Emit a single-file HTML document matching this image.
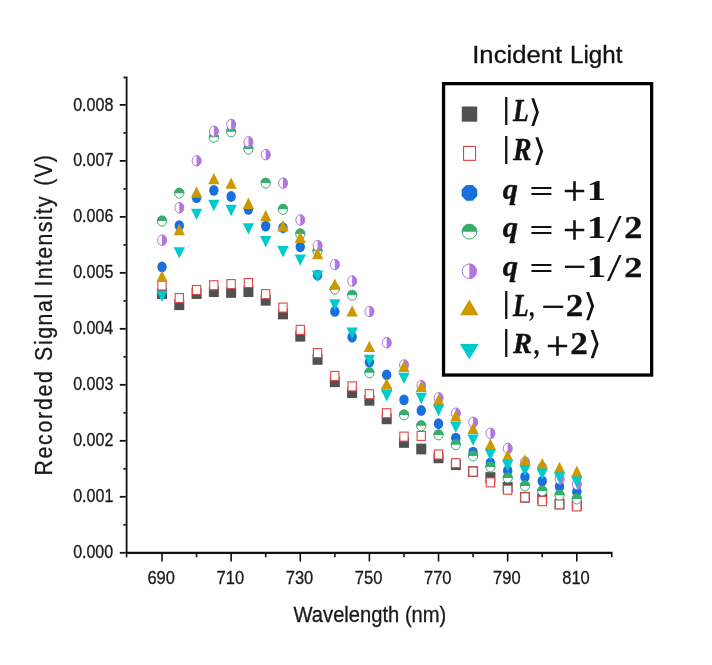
<!DOCTYPE html>
<html lang="en">
<head>
<meta charset="utf-8">
<title>Recorded Signal Intensity vs Wavelength</title>
<style>
html,body{margin:0;padding:0;background:#fff;}
body{width:712px;height:665px;overflow:hidden;}
svg{display:block;}
text{white-space:pre;}
.ax{font-family:"Liberation Sans",Arial,sans-serif;fill:#1a1a1a;}
.ti{font-family:"Liberation Sans",Arial,sans-serif;fill:#111;}
.bi{font-family:"Liberation Serif","DejaVu Serif",serif;font-weight:bold;font-style:italic;fill:#111;}
.b{font-family:"Liberation Serif","DejaVu Serif",serif;font-weight:bold;fill:#111;}
.r{font-family:"Liberation Serif","DejaVu Serif",serif;fill:#111;}
.sb{font-family:"Liberation Sans",Arial,sans-serif;fill:#111;}
.dj{font-family:"DejaVu Sans","Liberation Sans",sans-serif;fill:#111;}
</style>
</head>
<body>
<svg width="712" height="665" viewBox="0 0 712 665">
<rect width="712" height="665" fill="#fff"/>

<g stroke="#111" stroke-width="1.8" fill="none">
<path d="M126.6 76.6V553.8"/>
<path stroke-width="2.2" d="M125.7 552.8H612.6"/>
<path d="M125.7 552.8H119.8"/>
<path d="M125.7 524.81H123.4"/>
<path d="M125.7 496.81H119.8"/>
<path d="M125.7 468.82H123.4"/>
<path d="M125.7 440.82H119.8"/>
<path d="M125.7 412.83H123.4"/>
<path d="M125.7 384.84H119.8"/>
<path d="M125.7 356.84H123.4"/>
<path d="M125.7 328.85H119.8"/>
<path d="M125.7 300.86H123.4"/>
<path d="M125.7 272.86H119.8"/>
<path d="M125.7 244.87H123.4"/>
<path d="M125.7 216.88H119.8"/>
<path d="M125.7 188.88H123.4"/>
<path d="M125.7 160.89H119.8"/>
<path d="M125.7 132.89H123.4"/>
<path d="M125.7 104.9H119.8"/>
<path d="M125.7 77.5H123.4"/>
<path stroke-width="1.6" d="M126.6 553.9V557.3"/>
<path stroke-width="1.6" d="M162 553.9V561.5"/>
<path stroke-width="1.6" d="M196.57 553.9V557.3"/>
<path stroke-width="1.6" d="M231.13 553.9V561.5"/>
<path stroke-width="1.6" d="M265.7 553.9V557.3"/>
<path stroke-width="1.6" d="M300.27 553.9V561.5"/>
<path stroke-width="1.6" d="M334.83 553.9V557.3"/>
<path stroke-width="1.6" d="M369.4 553.9V561.5"/>
<path stroke-width="1.6" d="M403.97 553.9V557.3"/>
<path stroke-width="1.6" d="M438.53 553.9V561.5"/>
<path stroke-width="1.6" d="M473.1 553.9V557.3"/>
<path stroke-width="1.6" d="M507.67 553.9V561.5"/>
<path stroke-width="1.6" d="M542.23 553.9V557.3"/>
<path stroke-width="1.6" d="M576.8 553.9V561.5"/>
<path stroke-width="1.6" d="M611.7 553.9V557.3"/>
</g>
<g>
<text class="ax" font-size="19.2" stroke="#111" stroke-width="0.3" stroke-linejoin="round" transform="translate(73.15 558.1) scale(0.832 1)">0.000</text>
<text class="ax" font-size="19.2" stroke="#111" stroke-width="0.3" stroke-linejoin="round" transform="translate(73.15 502.15) scale(0.838 1)">0.001</text>
<text class="ax" font-size="19.2" stroke="#111" stroke-width="0.3" stroke-linejoin="round" transform="translate(73.15 446.2) scale(0.838 1)">0.002</text>
<text class="ax" font-size="19.2" stroke="#111" stroke-width="0.3" stroke-linejoin="round" transform="translate(73.15 390.25) scale(0.838 1)">0.003</text>
<text class="ax" font-size="19.2" stroke="#111" stroke-width="0.3" stroke-linejoin="round" transform="translate(73.15 334.3) scale(0.832 1)">0.004</text>
<text class="ax" font-size="19.2" stroke="#111" stroke-width="0.3" stroke-linejoin="round" transform="translate(73.15 278.35) scale(0.838 1)">0.005</text>
<text class="ax" font-size="19.2" stroke="#111" stroke-width="0.3" stroke-linejoin="round" transform="translate(73.15 222.4) scale(0.838 1)">0.006</text>
<text class="ax" font-size="19.2" stroke="#111" stroke-width="0.3" stroke-linejoin="round" transform="translate(73.15 166.45) scale(0.838 1)">0.007</text>
<text class="ax" font-size="19.2" stroke="#111" stroke-width="0.3" stroke-linejoin="round" transform="translate(73.15 110.5) scale(0.838 1)">0.008</text>
<text class="ax" font-size="19.2" stroke="#111" stroke-width="0.3" text-anchor="middle" transform="translate(161.2 583.8) scale(0.861 1)">690</text>
<text class="ax" font-size="19.2" stroke="#111" stroke-width="0.3" text-anchor="middle" transform="translate(230.33 583.8) scale(0.861 1)">710</text>
<text class="ax" font-size="19.2" stroke="#111" stroke-width="0.3" text-anchor="middle" transform="translate(299.47 583.8) scale(0.861 1)">730</text>
<text class="ax" font-size="19.2" stroke="#111" stroke-width="0.3" text-anchor="middle" transform="translate(368.6 583.8) scale(0.861 1)">750</text>
<text class="ax" font-size="19.2" stroke="#111" stroke-width="0.3" text-anchor="middle" transform="translate(437.73 583.8) scale(0.861 1)">770</text>
<text class="ax" font-size="19.2" stroke="#111" stroke-width="0.3" text-anchor="middle" transform="translate(506.87 583.8) scale(0.861 1)">790</text>
<text class="ax" font-size="19.2" stroke="#111" stroke-width="0.3" text-anchor="middle" transform="translate(576 583.8) scale(0.861 1)">810</text>
</g>
<text class="ax" font-size="22.98" stroke="#111" stroke-width="0.3" stroke-linejoin="round" transform="translate(293.55 621.82) scale(0.878 1)">Wavelength (nm)</text>
<text class="ax" font-size="24.8" stroke="#111" stroke-width="0.3" transform="translate(52.2 0) rotate(-90) scale(0.86 1)"><tspan x="-553.02" y="0" textLength="121.51" lengthAdjust="spacing">Recorded</tspan> <tspan x="-419.65" y="0" textLength="78.02" lengthAdjust="spacing">Signal</tspan> <tspan x="-333.02" y="0" textLength="104.65" lengthAdjust="spacing">Intensity</tspan> <tspan x="-216.05" y="0" textLength="35.58" lengthAdjust="spacing">(V)</tspan></text>
<g>
<rect x="157" y="288.25" width="10" height="10.7" fill="#515151"/>
<rect x="174.28" y="299.41" width="10" height="10.7" fill="#515151"/>
<rect x="191.57" y="288.25" width="10" height="10.7" fill="#515151"/>
<rect x="208.85" y="286.3" width="10" height="10.7" fill="#515151"/>
<rect x="226.13" y="287.14" width="10" height="10.7" fill="#515151"/>
<rect x="243.42" y="286.3" width="10" height="10.7" fill="#515151"/>
<rect x="260.7" y="294.95" width="10" height="10.7" fill="#515151"/>
<rect x="277.98" y="308.62" width="10" height="10.7" fill="#515151"/>
<rect x="295.27" y="330.94" width="10" height="10.7" fill="#515151"/>
<rect x="312.55" y="354.1" width="10" height="10.7" fill="#515151"/>
<rect x="329.83" y="376.42" width="10" height="10.7" fill="#515151"/>
<rect x="347.12" y="387.3" width="10" height="10.7" fill="#515151"/>
<rect x="364.4" y="395" width="10" height="10.7" fill="#515151"/>
<rect x="381.68" y="413.52" width="10" height="10.7" fill="#515151"/>
<rect x="398.97" y="437.13" width="10" height="10.7" fill="#515151"/>
<rect x="416.25" y="443.66" width="10" height="10.7" fill="#515151"/>
<rect x="433.53" y="452.53" width="10" height="10.7" fill="#515151"/>
<rect x="450.82" y="459.39" width="10" height="10.7" fill="#515151"/>
<rect x="468.1" y="466.26" width="10" height="10.7" fill="#515151"/>
<rect x="485.38" y="472.17" width="10" height="10.7" fill="#515151"/>
<rect x="502.67" y="482.05" width="10" height="10.7" fill="#515151"/>
<rect x="519.95" y="491.92" width="10" height="10.7" fill="#515151"/>
<rect x="537.23" y="493.65" width="10" height="10.7" fill="#515151"/>
<rect x="554.52" y="498.62" width="10" height="10.7" fill="#515151"/>
<rect x="571.8" y="499.96" width="10" height="10.7" fill="#515151"/>
</g>
<g>
<rect x="157.85" y="281.01" width="8.3" height="9" fill="#fff" stroke="#DC4646" stroke-width="1.1"/>
<rect x="175.13" y="293.57" width="8.3" height="9" fill="#fff" stroke="#DC4646" stroke-width="1.1"/>
<rect x="192.42" y="285.48" width="8.3" height="9" fill="#fff" stroke="#DC4646" stroke-width="1.1"/>
<rect x="209.7" y="280.73" width="8.3" height="9" fill="#fff" stroke="#DC4646" stroke-width="1.1"/>
<rect x="226.98" y="279.62" width="8.3" height="9" fill="#fff" stroke="#DC4646" stroke-width="1.1"/>
<rect x="244.27" y="278.5" width="8.3" height="9" fill="#fff" stroke="#DC4646" stroke-width="1.1"/>
<rect x="261.55" y="289.66" width="8.3" height="9" fill="#fff" stroke="#DC4646" stroke-width="1.1"/>
<rect x="278.83" y="303.05" width="8.3" height="9" fill="#fff" stroke="#DC4646" stroke-width="1.1"/>
<rect x="296.12" y="325.37" width="8.3" height="9" fill="#fff" stroke="#DC4646" stroke-width="1.1"/>
<rect x="313.4" y="348.59" width="8.3" height="9" fill="#fff" stroke="#DC4646" stroke-width="1.1"/>
<rect x="330.68" y="371.41" width="8.3" height="9" fill="#fff" stroke="#DC4646" stroke-width="1.1"/>
<rect x="347.97" y="381.9" width="8.3" height="9" fill="#fff" stroke="#DC4646" stroke-width="1.1"/>
<rect x="365.25" y="389.71" width="8.3" height="9" fill="#fff" stroke="#DC4646" stroke-width="1.1"/>
<rect x="382.53" y="408.68" width="8.3" height="9" fill="#fff" stroke="#DC4646" stroke-width="1.1"/>
<rect x="399.82" y="432.12" width="8.3" height="9" fill="#fff" stroke="#DC4646" stroke-width="1.1"/>
<rect x="417.1" y="431.39" width="8.3" height="9" fill="#fff" stroke="#DC4646" stroke-width="1.1"/>
<rect x="434.38" y="449.98" width="8.3" height="9" fill="#fff" stroke="#DC4646" stroke-width="1.1"/>
<rect x="451.67" y="458.62" width="8.3" height="9" fill="#fff" stroke="#DC4646" stroke-width="1.1"/>
<rect x="468.95" y="467.11" width="8.3" height="9" fill="#fff" stroke="#DC4646" stroke-width="1.1"/>
<rect x="486.23" y="477.88" width="8.3" height="9" fill="#fff" stroke="#DC4646" stroke-width="1.1"/>
<rect x="503.52" y="485.24" width="8.3" height="9" fill="#fff" stroke="#DC4646" stroke-width="1.1"/>
<rect x="520.8" y="492.83" width="8.3" height="9" fill="#fff" stroke="#DC4646" stroke-width="1.1"/>
<rect x="538.08" y="496.62" width="8.3" height="9" fill="#fff" stroke="#DC4646" stroke-width="1.1"/>
<rect x="555.37" y="499.8" width="8.3" height="9" fill="#fff" stroke="#DC4646" stroke-width="1.1"/>
<rect x="572.65" y="501.93" width="8.3" height="9" fill="#fff" stroke="#DC4646" stroke-width="1.1"/>
</g>
<g>
<ellipse cx="162" cy="266.99" rx="4.7" ry="5.4" fill="#1A6FDF"/>
<ellipse cx="179.28" cy="225.53" rx="4.7" ry="5.4" fill="#1A6FDF"/>
<ellipse cx="196.57" cy="197.63" rx="4.7" ry="5.4" fill="#1A6FDF"/>
<ellipse cx="213.85" cy="190.37" rx="4.7" ry="5.4" fill="#1A6FDF"/>
<ellipse cx="231.13" cy="196.51" rx="4.7" ry="5.4" fill="#1A6FDF"/>
<ellipse cx="248.42" cy="209.35" rx="4.7" ry="5.4" fill="#1A6FDF"/>
<ellipse cx="265.7" cy="226.09" rx="4.7" ry="5.4" fill="#1A6FDF"/>
<ellipse cx="282.98" cy="227.76" rx="4.7" ry="5.4" fill="#1A6FDF"/>
<ellipse cx="300.27" cy="246.73" rx="4.7" ry="5.4" fill="#1A6FDF"/>
<ellipse cx="317.55" cy="275.19" rx="4.7" ry="5.4" fill="#1A6FDF"/>
<ellipse cx="334.83" cy="311.46" rx="4.7" ry="5.4" fill="#1A6FDF"/>
<ellipse cx="352.12" cy="337.13" rx="4.7" ry="5.4" fill="#1A6FDF"/>
<ellipse cx="369.4" cy="362.24" rx="4.7" ry="5.4" fill="#1A6FDF"/>
<ellipse cx="386.68" cy="374.79" rx="4.7" ry="5.4" fill="#1A6FDF"/>
<ellipse cx="403.97" cy="399.9" rx="4.7" ry="5.4" fill="#1A6FDF"/>
<ellipse cx="421.25" cy="410.5" rx="4.7" ry="5.4" fill="#1A6FDF"/>
<ellipse cx="438.53" cy="423.73" rx="4.7" ry="5.4" fill="#1A6FDF"/>
<ellipse cx="455.82" cy="438.13" rx="4.7" ry="5.4" fill="#1A6FDF"/>
<ellipse cx="473.1" cy="452.08" rx="4.7" ry="5.4" fill="#1A6FDF"/>
<ellipse cx="490.38" cy="462.79" rx="4.7" ry="5.4" fill="#1A6FDF"/>
<ellipse cx="507.67" cy="470.6" rx="4.7" ry="5.4" fill="#1A6FDF"/>
<ellipse cx="524.95" cy="476.91" rx="4.7" ry="5.4" fill="#1A6FDF"/>
<ellipse cx="542.23" cy="481.09" rx="4.7" ry="5.4" fill="#1A6FDF"/>
<ellipse cx="559.52" cy="486.39" rx="4.7" ry="5.4" fill="#1A6FDF"/>
<ellipse cx="576.8" cy="491.69" rx="4.7" ry="5.4" fill="#1A6FDF"/>
</g>
<g>
<ellipse cx="162" cy="221.06" rx="4.6" ry="5" fill="#fff" stroke="#37AD6B" stroke-width="1"/><path d="M156.9 221.06A5.1 5.5 0 0 1 167.1 221.06Z" fill="#37AD6B"/>
<ellipse cx="179.28" cy="193.16" rx="4.6" ry="5" fill="#fff" stroke="#37AD6B" stroke-width="1"/><path d="M174.18 193.16A5.1 5.5 0 0 1 184.38 193.16Z" fill="#37AD6B"/>
<ellipse cx="213.85" cy="137.36" rx="4.6" ry="5" fill="#fff" stroke="#37AD6B" stroke-width="1"/><path d="M208.75 137.36A5.1 5.5 0 0 1 218.95 137.36Z" fill="#37AD6B"/>
<ellipse cx="231.13" cy="131.78" rx="4.6" ry="5" fill="#fff" stroke="#37AD6B" stroke-width="1"/><path d="M226.03 131.78A5.1 5.5 0 0 1 236.23 131.78Z" fill="#37AD6B"/>
<ellipse cx="248.42" cy="149.08" rx="4.6" ry="5" fill="#fff" stroke="#37AD6B" stroke-width="1"/><path d="M243.32 149.08A5.1 5.5 0 0 1 253.52 149.08Z" fill="#37AD6B"/>
<ellipse cx="265.7" cy="183.12" rx="4.6" ry="5" fill="#fff" stroke="#37AD6B" stroke-width="1"/><path d="M260.6 183.12A5.1 5.5 0 0 1 270.8 183.12Z" fill="#37AD6B"/>
<ellipse cx="282.98" cy="209.35" rx="4.6" ry="5" fill="#fff" stroke="#37AD6B" stroke-width="1"/><path d="M277.88 209.35A5.1 5.5 0 0 1 288.08 209.35Z" fill="#37AD6B"/>
<ellipse cx="300.27" cy="233.9" rx="4.6" ry="5" fill="#fff" stroke="#37AD6B" stroke-width="1"/><path d="M295.17 233.9A5.1 5.5 0 0 1 305.37 233.9Z" fill="#37AD6B"/>
<ellipse cx="317.55" cy="251.2" rx="4.6" ry="5" fill="#fff" stroke="#37AD6B" stroke-width="1"/><path d="M312.45 251.2A5.1 5.5 0 0 1 322.65 251.2Z" fill="#37AD6B"/>
<ellipse cx="334.83" cy="289.14" rx="4.6" ry="5" fill="#fff" stroke="#37AD6B" stroke-width="1"/><path d="M329.73 289.14A5.1 5.5 0 0 1 339.93 289.14Z" fill="#37AD6B"/>
<ellipse cx="352.12" cy="295.28" rx="4.6" ry="5" fill="#fff" stroke="#37AD6B" stroke-width="1"/><path d="M347.02 295.28A5.1 5.5 0 0 1 357.22 295.28Z" fill="#37AD6B"/>
<ellipse cx="369.4" cy="372.84" rx="4.6" ry="5" fill="#fff" stroke="#37AD6B" stroke-width="1"/><path d="M364.3 372.84A5.1 5.5 0 0 1 374.5 372.84Z" fill="#37AD6B"/>
<ellipse cx="386.68" cy="389.58" rx="4.6" ry="5" fill="#fff" stroke="#37AD6B" stroke-width="1"/><path d="M381.58 389.58A5.1 5.5 0 0 1 391.78 389.58Z" fill="#37AD6B"/>
<ellipse cx="403.97" cy="414.91" rx="4.6" ry="5" fill="#fff" stroke="#37AD6B" stroke-width="1"/><path d="M398.87 414.91A5.1 5.5 0 0 1 409.07 414.91Z" fill="#37AD6B"/>
<ellipse cx="421.25" cy="425.85" rx="4.6" ry="5" fill="#fff" stroke="#37AD6B" stroke-width="1"/><path d="M416.15 425.85A5.1 5.5 0 0 1 426.35 425.85Z" fill="#37AD6B"/>
<ellipse cx="438.53" cy="434.89" rx="4.6" ry="5" fill="#fff" stroke="#37AD6B" stroke-width="1"/><path d="M433.43 434.89A5.1 5.5 0 0 1 443.63 434.89Z" fill="#37AD6B"/>
<ellipse cx="455.82" cy="444.71" rx="4.6" ry="5" fill="#fff" stroke="#37AD6B" stroke-width="1"/><path d="M450.72 444.71A5.1 5.5 0 0 1 460.92 444.71Z" fill="#37AD6B"/>
<ellipse cx="473.1" cy="455.98" rx="4.6" ry="5" fill="#fff" stroke="#37AD6B" stroke-width="1"/><path d="M468 455.98A5.1 5.5 0 0 1 478.2 455.98Z" fill="#37AD6B"/>
<ellipse cx="490.38" cy="466.97" rx="4.6" ry="5" fill="#fff" stroke="#37AD6B" stroke-width="1"/><path d="M485.28 466.97A5.1 5.5 0 0 1 495.48 466.97Z" fill="#37AD6B"/>
<ellipse cx="507.67" cy="477.91" rx="4.6" ry="5" fill="#fff" stroke="#37AD6B" stroke-width="1"/><path d="M502.57 477.91A5.1 5.5 0 0 1 512.77 477.91Z" fill="#37AD6B"/>
<ellipse cx="524.95" cy="485.95" rx="4.6" ry="5" fill="#fff" stroke="#37AD6B" stroke-width="1"/><path d="M519.85 485.95A5.1 5.5 0 0 1 530.05 485.95Z" fill="#37AD6B"/>
<ellipse cx="542.23" cy="491.02" rx="4.6" ry="5" fill="#fff" stroke="#37AD6B" stroke-width="1"/><path d="M537.13 491.02A5.1 5.5 0 0 1 547.33 491.02Z" fill="#37AD6B"/>
<ellipse cx="559.52" cy="495.21" rx="4.6" ry="5" fill="#fff" stroke="#37AD6B" stroke-width="1"/><path d="M554.42 495.21A5.1 5.5 0 0 1 564.62 495.21Z" fill="#37AD6B"/>
<ellipse cx="576.8" cy="499" rx="4.6" ry="5" fill="#fff" stroke="#37AD6B" stroke-width="1"/><path d="M571.7 499A5.1 5.5 0 0 1 581.9 499Z" fill="#37AD6B"/>
</g>
<g>
<ellipse cx="162" cy="240.2" rx="4.4" ry="5.2" fill="#fff" stroke="#B177DE" stroke-width="1"/><path d="M162 234.5A4.9 5.7 0 0 1 162 245.9Z" fill="#B177DE"/>
<ellipse cx="179.28" cy="207.67" rx="4.4" ry="5.2" fill="#fff" stroke="#B177DE" stroke-width="1"/><path d="M179.28 201.97A4.9 5.7 0 0 1 179.28 213.37Z" fill="#B177DE"/>
<ellipse cx="196.57" cy="160.8" rx="4.4" ry="5.2" fill="#fff" stroke="#B177DE" stroke-width="1"/><path d="M196.57 155.1A4.9 5.7 0 0 1 196.57 166.5Z" fill="#B177DE"/>
<ellipse cx="213.85" cy="131.23" rx="4.4" ry="5.2" fill="#fff" stroke="#B177DE" stroke-width="1"/><path d="M213.85 125.53A4.9 5.7 0 0 1 213.85 136.93Z" fill="#B177DE"/>
<ellipse cx="231.13" cy="124.53" rx="4.4" ry="5.2" fill="#fff" stroke="#B177DE" stroke-width="1"/><path d="M231.13 118.83A4.9 5.7 0 0 1 231.13 130.23Z" fill="#B177DE"/>
<ellipse cx="248.42" cy="141.83" rx="4.4" ry="5.2" fill="#fff" stroke="#B177DE" stroke-width="1"/><path d="M248.42 136.13A4.9 5.7 0 0 1 248.42 147.53Z" fill="#B177DE"/>
<ellipse cx="265.7" cy="154.66" rx="4.4" ry="5.2" fill="#fff" stroke="#B177DE" stroke-width="1"/><path d="M265.7 148.96A4.9 5.7 0 0 1 265.7 160.36Z" fill="#B177DE"/>
<ellipse cx="282.98" cy="183.12" rx="4.4" ry="5.2" fill="#fff" stroke="#B177DE" stroke-width="1"/><path d="M282.98 177.42A4.9 5.7 0 0 1 282.98 188.82Z" fill="#B177DE"/>
<ellipse cx="300.27" cy="219.95" rx="4.4" ry="5.2" fill="#fff" stroke="#B177DE" stroke-width="1"/><path d="M300.27 214.25A4.9 5.7 0 0 1 300.27 225.65Z" fill="#B177DE"/>
<ellipse cx="317.55" cy="245.62" rx="4.4" ry="5.2" fill="#fff" stroke="#B177DE" stroke-width="1"/><path d="M317.55 239.92A4.9 5.7 0 0 1 317.55 251.32Z" fill="#B177DE"/>
<ellipse cx="334.83" cy="264.59" rx="4.4" ry="5.2" fill="#fff" stroke="#B177DE" stroke-width="1"/><path d="M334.83 258.89A4.9 5.7 0 0 1 334.83 270.29Z" fill="#B177DE"/>
<ellipse cx="352.12" cy="281.05" rx="4.4" ry="5.2" fill="#fff" stroke="#B177DE" stroke-width="1"/><path d="M352.12 275.35A4.9 5.7 0 0 1 352.12 286.75Z" fill="#B177DE"/>
<ellipse cx="369.4" cy="311.46" rx="4.4" ry="5.2" fill="#fff" stroke="#B177DE" stroke-width="1"/><path d="M369.4 305.76A4.9 5.7 0 0 1 369.4 317.16Z" fill="#B177DE"/>
<ellipse cx="386.68" cy="342.71" rx="4.4" ry="5.2" fill="#fff" stroke="#B177DE" stroke-width="1"/><path d="M386.68 337.01A4.9 5.7 0 0 1 386.68 348.41Z" fill="#B177DE"/>
<ellipse cx="403.97" cy="365.03" rx="4.4" ry="5.2" fill="#fff" stroke="#B177DE" stroke-width="1"/><path d="M403.97 359.33A4.9 5.7 0 0 1 403.97 370.73Z" fill="#B177DE"/>
<ellipse cx="421.25" cy="385.67" rx="4.4" ry="5.2" fill="#fff" stroke="#B177DE" stroke-width="1"/><path d="M421.25 379.97A4.9 5.7 0 0 1 421.25 391.37Z" fill="#B177DE"/>
<ellipse cx="438.53" cy="397.95" rx="4.4" ry="5.2" fill="#fff" stroke="#B177DE" stroke-width="1"/><path d="M438.53 392.25A4.9 5.7 0 0 1 438.53 403.65Z" fill="#B177DE"/>
<ellipse cx="455.82" cy="413.24" rx="4.4" ry="5.2" fill="#fff" stroke="#B177DE" stroke-width="1"/><path d="M455.82 407.54A4.9 5.7 0 0 1 455.82 418.94Z" fill="#B177DE"/>
<ellipse cx="473.1" cy="422.33" rx="4.4" ry="5.2" fill="#fff" stroke="#B177DE" stroke-width="1"/><path d="M473.1 416.63A4.9 5.7 0 0 1 473.1 428.03Z" fill="#B177DE"/>
<ellipse cx="490.38" cy="433.27" rx="4.4" ry="5.2" fill="#fff" stroke="#B177DE" stroke-width="1"/><path d="M490.38 427.57A4.9 5.7 0 0 1 490.38 438.97Z" fill="#B177DE"/>
<ellipse cx="507.67" cy="448.45" rx="4.4" ry="5.2" fill="#fff" stroke="#B177DE" stroke-width="1"/><path d="M507.67 442.75A4.9 5.7 0 0 1 507.67 454.15Z" fill="#B177DE"/>
<ellipse cx="524.95" cy="462.12" rx="4.4" ry="5.2" fill="#fff" stroke="#B177DE" stroke-width="1"/><path d="M524.95 456.42A4.9 5.7 0 0 1 524.95 467.82Z" fill="#B177DE"/>
<ellipse cx="542.23" cy="467.7" rx="4.4" ry="5.2" fill="#fff" stroke="#B177DE" stroke-width="1"/><path d="M542.23 462A4.9 5.7 0 0 1 542.23 473.4Z" fill="#B177DE"/>
<ellipse cx="559.52" cy="478.86" rx="4.4" ry="5.2" fill="#fff" stroke="#B177DE" stroke-width="1"/><path d="M559.52 473.16A4.9 5.7 0 0 1 559.52 484.56Z" fill="#B177DE"/>
<ellipse cx="576.8" cy="484.27" rx="4.4" ry="5.2" fill="#fff" stroke="#B177DE" stroke-width="1"/><path d="M576.8 478.57A4.9 5.7 0 0 1 576.8 489.97Z" fill="#B177DE"/>
</g>
<g>
<path d="M162 270.61L167.65 282.01H156.35Z" fill="#CC9900"/>
<path d="M179.28 223.73L184.93 235.13H173.63Z" fill="#CC9900"/>
<path d="M196.57 186.35L202.22 197.75H190.92Z" fill="#CC9900"/>
<path d="M213.85 172.96L219.5 184.36H208.2Z" fill="#CC9900"/>
<path d="M231.13 177.42L236.78 188.82H225.48Z" fill="#CC9900"/>
<path d="M248.42 197.51L254.07 208.91H242.77Z" fill="#CC9900"/>
<path d="M265.7 209.78L271.35 221.18H260.05Z" fill="#CC9900"/>
<path d="M282.98 220.11L288.63 231.51H277.33Z" fill="#CC9900"/>
<path d="M300.27 231.55L305.92 242.95H294.62Z" fill="#CC9900"/>
<path d="M317.55 247.73L323.2 259.13H311.9Z" fill="#CC9900"/>
<path d="M334.83 278.42L340.48 289.82H329.18Z" fill="#CC9900"/>
<path d="M352.12 305.2L357.77 316.6H346.47Z" fill="#CC9900"/>
<path d="M369.4 340.64L375.05 352.04H363.75Z" fill="#CC9900"/>
<path d="M386.68 378.02L392.33 389.42H381.03Z" fill="#CC9900"/>
<path d="M403.97 360.56L409.62 371.96H398.32Z" fill="#CC9900"/>
<path d="M421.25 380.53L426.9 391.93H415.6Z" fill="#CC9900"/>
<path d="M438.53 394.2L444.18 405.6H432.88Z" fill="#CC9900"/>
<path d="M455.82 410.11L461.47 421.51H450.17Z" fill="#CC9900"/>
<path d="M473.1 422.72L478.75 434.12H467.45Z" fill="#CC9900"/>
<path d="M490.38 438.56L496.03 449.96H484.73Z" fill="#CC9900"/>
<path d="M507.67 449.5L513.32 460.9H502.02Z" fill="#CC9900"/>
<path d="M524.95 454.3L530.6 465.7H519.3Z" fill="#CC9900"/>
<path d="M542.23 457.93L547.88 469.33H536.58Z" fill="#CC9900"/>
<path d="M559.52 461.72L565.17 473.12H553.87Z" fill="#CC9900"/>
<path d="M576.8 465.52L582.45 476.92H571.15Z" fill="#CC9900"/>
</g>
<g>
<path d="M162 302.09L167.65 290.69H156.35Z" fill="#00CBCC"/>
<path d="M179.28 258.57L184.93 247.17H173.63Z" fill="#00CBCC"/>
<path d="M196.57 220.07L202.22 208.67H190.92Z" fill="#00CBCC"/>
<path d="M213.85 211.14L219.5 199.74H208.2Z" fill="#00CBCC"/>
<path d="M231.13 216.16L236.78 204.76H225.48Z" fill="#00CBCC"/>
<path d="M248.42 234.58L254.07 223.18H242.77Z" fill="#00CBCC"/>
<path d="M265.7 247.41L271.35 236.01H260.05Z" fill="#00CBCC"/>
<path d="M282.98 257.45L288.63 246.05H277.33Z" fill="#00CBCC"/>
<path d="M300.27 265.82L305.92 254.42H294.62Z" fill="#00CBCC"/>
<path d="M317.55 282.01L323.2 270.61H311.9Z" fill="#00CBCC"/>
<path d="M334.83 310.74L340.48 299.34H329.18Z" fill="#00CBCC"/>
<path d="M352.12 338.92L357.77 327.52H346.47Z" fill="#00CBCC"/>
<path d="M369.4 366.26L375.05 354.86H363.75Z" fill="#00CBCC"/>
<path d="M386.68 401.42L392.33 390.02H381.03Z" fill="#00CBCC"/>
<path d="M403.97 384.12L409.62 372.72H398.32Z" fill="#00CBCC"/>
<path d="M421.25 404.21L426.9 392.81H415.6Z" fill="#00CBCC"/>
<path d="M438.53 416.2L444.18 404.81H432.88Z" fill="#00CBCC"/>
<path d="M455.82 433.11L461.47 421.71H450.17Z" fill="#00CBCC"/>
<path d="M473.1 445.78L478.75 434.38H467.45Z" fill="#00CBCC"/>
<path d="M490.38 460.45L496.03 449.05H484.73Z" fill="#00CBCC"/>
<path d="M507.67 471.39L513.32 459.99H502.02Z" fill="#00CBCC"/>
<path d="M524.95 476.3L530.6 464.9H519.3Z" fill="#00CBCC"/>
<path d="M542.23 479.87L547.88 468.47H536.58Z" fill="#00CBCC"/>
<path d="M559.52 483.61L565.17 472.21H553.87Z" fill="#00CBCC"/>
<path d="M576.8 487.91L582.45 476.51H571.15Z" fill="#00CBCC"/>
</g>
<text class="ti" font-size="23.07" stroke="#111" stroke-width="0.3" stroke-linejoin="round" transform="translate(472.24 63.09) scale(1.113 1)">Incident</text>
<text class="ti" font-size="23.5" stroke="#111" stroke-width="0.3" stroke-linejoin="round" transform="translate(569.96 63.41) scale(1.028 1)">Light</text>
<rect x="443.55" y="83.65" width="208.1" height="291.4" fill="#fff" stroke="#000" stroke-width="3.3"/>
<rect x="461.8" y="106.5" width="15.4" height="15.2" fill="#515151"/>
<rect x="463.55" y="146.45" width="12" height="13.9" fill="#fff" stroke="#DC4646" stroke-width="1.1"/>
<polygon points="477.26,196.08 472.68,200.66 466.22,200.66 461.64,196.08 461.64,189.62 466.22,185.04 472.68,185.04 477.26,189.62" fill="#1A6FDF"/>
<ellipse cx="469.45" cy="231.7" rx="7.3" ry="7.35" fill="#fff" stroke="#37AD6B" stroke-width="1"/><path d="M461.65 231.7A7.8 7.85 0 0 1 477.25 231.7Z" fill="#37AD6B"/>
<ellipse cx="469.3" cy="271.2" rx="7.2" ry="7.2" fill="#fff" stroke="#B177DE" stroke-width="1"/><path d="M469.3 263.5A7.7 7.7 0 0 1 469.3 278.9Z" fill="#B177DE"/>
<path d="M469.3 299.6L478.6 315.3H460Z" fill="#CC9900"/>
<path d="M469.3 359.6L478.6 343.9H460Z" fill="#00CBCC"/>
<text><tspan class="sb" font-size="29.69" x="502.45" y="119.3" textLength="7.48" lengthAdjust="spacingAndGlyphs">|</tspan><tspan class="bi" font-size="30.93" stroke="#111" stroke-width="0.5" stroke-linejoin="round" x="513.05" y="121.15" textLength="15.74" lengthAdjust="spacingAndGlyphs">L</tspan><tspan class="dj" font-size="31.12" x="528.4" y="121.62" textLength="13.48" lengthAdjust="spacingAndGlyphs">⟩</tspan></text>
<text><tspan class="sb" font-size="29.38" x="502.45" y="158.17" textLength="7.48" lengthAdjust="spacingAndGlyphs">|</tspan><tspan class="bi" font-size="30.93" stroke="#111" stroke-width="0.4" stroke-linejoin="round" x="513.04" y="160.4" textLength="18.6" lengthAdjust="spacingAndGlyphs">R</tspan><tspan class="dj" font-size="31.12" x="532.53" y="160.72" textLength="13.82" lengthAdjust="spacingAndGlyphs">⟩</tspan></text>
<text><tspan class="bi" font-size="30.01" stroke="#111" stroke-width="0.4" stroke-linejoin="round" x="502.8" y="198.64" textLength="15.17" lengthAdjust="spacingAndGlyphs">q</tspan><tspan class="b" font-size="30.22" x="529.28" y="201.27" textLength="24.56" lengthAdjust="spacingAndGlyphs">=</tspan><tspan class="r" font-size="40.67" stroke="#111" stroke-width="0.6" stroke-linejoin="round" x="562.99" y="204.41" textLength="22.98" lengthAdjust="spacingAndGlyphs">+</tspan><tspan class="b" font-size="30.07" x="586.8" y="199.5" textLength="19.2" lengthAdjust="spacingAndGlyphs">1</tspan></text>
<text><tspan class="bi" font-size="30.15" stroke="#111" stroke-width="0.4" stroke-linejoin="round" x="502.8" y="237.2" textLength="15.28" lengthAdjust="spacingAndGlyphs">q</tspan><tspan class="b" font-size="30.22" x="529.28" y="239.87" textLength="24.56" lengthAdjust="spacingAndGlyphs">=</tspan><tspan class="r" font-size="40.46" stroke="#111" stroke-width="0.6" stroke-linejoin="round" x="562.99" y="242.89" textLength="22.98" lengthAdjust="spacingAndGlyphs">+</tspan><tspan class="b" font-size="30.81" x="586.86" y="238.1" textLength="19.47" lengthAdjust="spacingAndGlyphs">1</tspan><tspan class="r" font-size="40.29" x="607" y="241.97" textLength="14.62" lengthAdjust="spacingAndGlyphs">/</tspan><tspan class="b" font-size="30.51" stroke="#111" stroke-width="0.3" stroke-linejoin="round" x="624.21" y="237.95" textLength="18.17" lengthAdjust="spacingAndGlyphs">2</tspan></text>
<text><tspan class="bi" font-size="30.15" stroke="#111" stroke-width="0.4" stroke-linejoin="round" x="502.8" y="275.8" textLength="15.28" lengthAdjust="spacingAndGlyphs">q</tspan><tspan class="b" font-size="30.22" x="529.28" y="278.47" textLength="24.56" lengthAdjust="spacingAndGlyphs">=</tspan><tspan class="r" font-size="46.4" x="562.63" y="282.38" textLength="23.7" lengthAdjust="spacingAndGlyphs">−</tspan><tspan class="b" font-size="30.51" x="586.86" y="276.8" textLength="19.47" lengthAdjust="spacingAndGlyphs">1</tspan><tspan class="r" font-size="40.15" x="607" y="280.67" textLength="14.62" lengthAdjust="spacingAndGlyphs">/</tspan><tspan class="b" font-size="30.07" stroke="#111" stroke-width="0.3" stroke-linejoin="round" x="624.21" y="276.65" textLength="18.17" lengthAdjust="spacingAndGlyphs">2</tspan></text>
<text><tspan class="sb" font-size="29.48" x="502.45" y="313.35" textLength="7.48" lengthAdjust="spacingAndGlyphs">|</tspan><tspan class="bi" font-size="30.78" stroke="#111" stroke-width="0.5" stroke-linejoin="round" x="512.95" y="315.55" textLength="15.64" lengthAdjust="spacingAndGlyphs">L</tspan><tspan class="b" font-size="30.08" x="529" y="315.6" textLength="5.6" lengthAdjust="spacingAndGlyphs">,</tspan><tspan class="r" font-size="46.4" x="541.08" y="322.08" textLength="24.3" lengthAdjust="spacingAndGlyphs">−</tspan><tspan class="b" font-size="30.96" stroke="#111" stroke-width="0.3" stroke-linejoin="round" x="565.65" y="315.55" textLength="17.6" lengthAdjust="spacingAndGlyphs">2</tspan><tspan class="dj" font-size="31.56" x="583.17" y="315.76" textLength="14.15" lengthAdjust="spacingAndGlyphs">⟩</tspan></text>
<text><tspan class="sb" font-size="29.48" x="502.45" y="351.45" textLength="7.48" lengthAdjust="spacingAndGlyphs">|</tspan><tspan class="bi" font-size="30.48" stroke="#111" stroke-width="0.4" stroke-linejoin="round" x="512.95" y="353.4" textLength="19.11" lengthAdjust="spacingAndGlyphs">R</tspan><tspan class="b" font-size="30.08" x="533.6" y="353.9" textLength="6.06" lengthAdjust="spacingAndGlyphs">,</tspan><tspan class="r" font-size="40.67" stroke="#111" stroke-width="0.6" stroke-linejoin="round" x="546.1" y="358.71" textLength="22.86" lengthAdjust="spacingAndGlyphs">+</tspan><tspan class="b" font-size="30.81" stroke="#111" stroke-width="0.3" stroke-linejoin="round" x="570.35" y="353.75" textLength="17.6" lengthAdjust="spacingAndGlyphs">2</tspan><tspan class="dj" font-size="31.56" x="587.67" y="354.26" textLength="14.15" lengthAdjust="spacingAndGlyphs">⟩</tspan></text>
</svg>
</body>
</html>
